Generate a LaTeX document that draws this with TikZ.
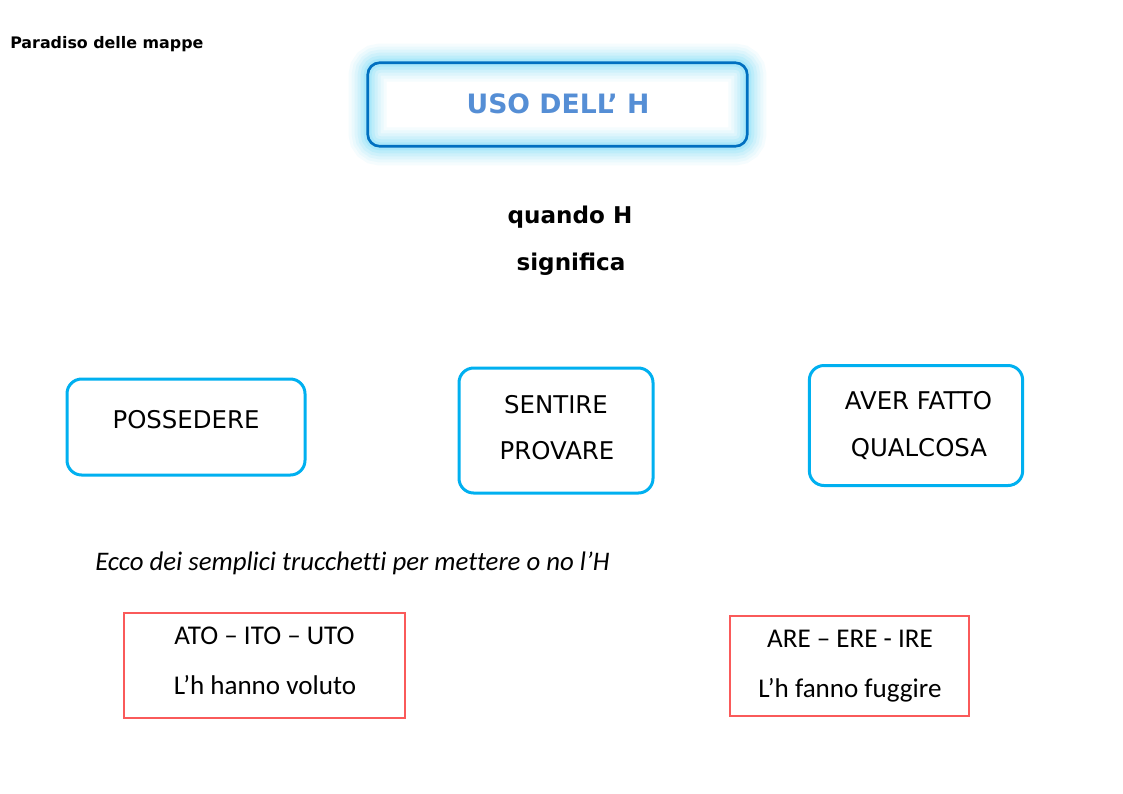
\documentclass[tikz,border=0pt]{standalone}
\usepackage{fontspec}
\setmainfont{Carlito}[Ligatures=NoCommon]
\newfontfamily\verdana{DejaVu Sans}

\definecolor{titleblue}{RGB}{85,142,213}
\definecolor{frameblue}{RGB}{0,112,192}
\definecolor{glowblue}{RGB}{60,205,250}
\definecolor{boxcyan}{RGB}{0,176,240}
\definecolor{boxred}{RGB}{250,90,90}

\begin{document}
\begin{tikzpicture}[x=0.75pt, y=-0.75pt,
        bluebox/.style={draw=boxcyan, line width=2.25pt, rounded corners=11pt, inner sep=0pt},
        redbox/.style={draw=boxred, line width=0.8pt, inner sep=0pt},
        bluetext/.style={anchor=base, inner sep=0pt, font=\verdana\fontsize{18.3}{22}\selectfont},
        redtext/.style={anchor=base, inner sep=0pt, font=\fontsize{20.3}{24}\selectfont},
        asktext/.style={anchor=base, inner sep=0pt, font=\verdana\bfseries\fontsize{17.3}{21}\selectfont}]
        \useasboundingbox[fill=white] (0,0) rectangle (1123,793);

        \node[anchor=base west, inner sep=0pt, font=\verdana\bfseries\fontsize{11.9}{14}\selectfont] (brand) at (10,48) {Paradiso delle mappe};

        % title with glow
        \node[minimum width=284.25pt, minimum height=62.25pt, inner sep=0pt] (title) at (557.5,104.5) {};
        \foreach \w/\o in {38/0.05, 32/0.06, 26/0.07, 20/0.09, 14/0.11, 8/0.14}
            \draw[glowblue, opacity=\o, line width=\w*0.75pt, rounded corners=9pt] (title.south west) rectangle (title.north east);
        \draw[frameblue, line width=2pt, rounded corners=9pt] (title.south west) rectangle (title.north east);
        \node[anchor=base, inner sep=0pt, text=titleblue, font=\verdana\bfseries\fontsize{20}{24}\selectfont] (titletext) at (558,113) {USO DELL’ H};

        \node[asktext] (quando) at (570,223) {quando H};
        \node[asktext] (significa) at (571,270) {significa};

        % three meanings
        \node[bluebox, minimum width=178.5pt, minimum height=72pt] (possbox) at (186,427) {};
        \node[bluetext] (poss) at (186,428) {POSSEDERE};

        \node[bluebox, minimum width=145.5pt, minimum height=93.75pt] (sentbox) at (556,430.5) {};
        \node[bluetext] (sentire) at (556,413) {SENTIRE};
        \node[bluetext] (provare) at (557,459) {PROVARE};

        \node[bluebox, minimum width=160pt, minimum height=90pt] (averbox) at (916,425.5) {};
        \node[bluetext] (aver) at (918.5,409) {AVER FATTO};
        \node[bluetext] (qualcosa) at (919,456) {QUALCOSA};

        \node[anchor=base west, inner sep=0pt, font=\itshape\fontsize{20.1}{24}\selectfont] (ecco) at (95,570) {Ecco dei semplici trucchetti per mettere o no l’H};

        % tricks
        \node[redbox, minimum width=210.75pt, minimum height=78.75pt] (atobox) at (264.5,665.5) {};
        \node[redtext] (ato) at (264.5,644) {ATO – ITO – UTO};
        \node[redtext] (voluto) at (265,694) {L’h hanno voluto};

        \node[redbox, minimum width=179.25pt, minimum height=75pt] (arebox) at (849.5,666) {};
        \node[redtext] (are) at (850,647) {ARE – ERE - IRE};
        \node[redtext] (fuggire) at (850,697) {L’h fanno fuggire};
    \end{tikzpicture}
\end{document}
